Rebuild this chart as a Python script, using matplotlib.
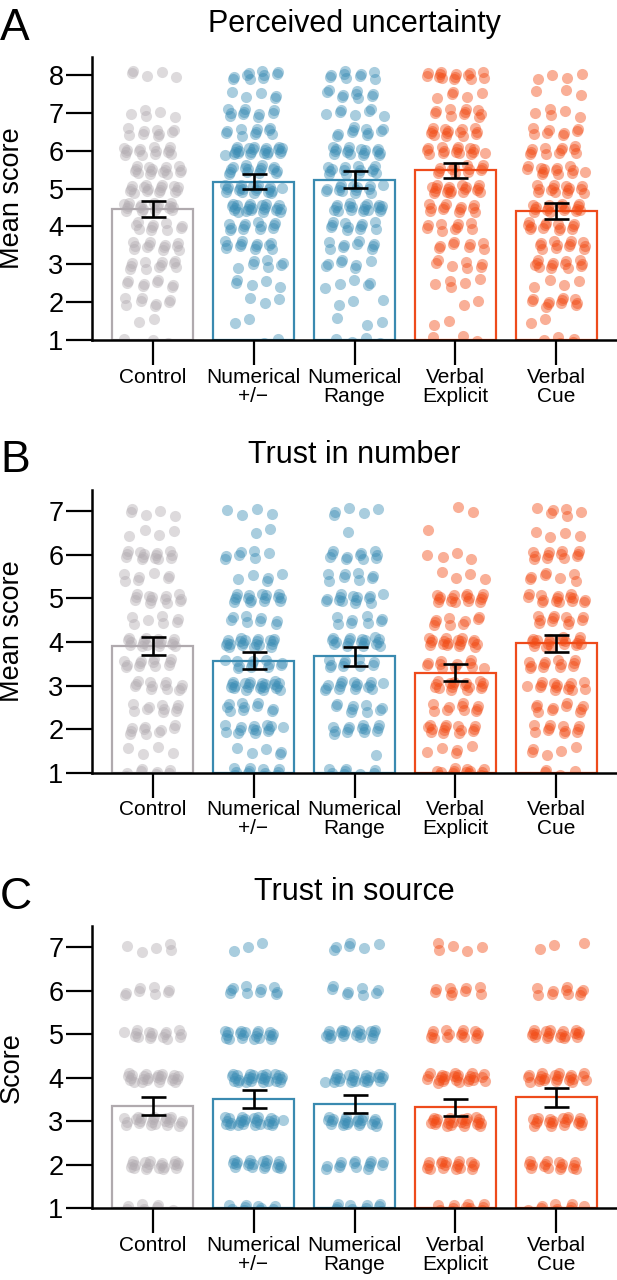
import numpy as np
import matplotlib
matplotlib.use('Agg')
import matplotlib.pyplot as plt

plt.rcParams['font.family'] = ['Liberation Sans', 'DejaVu Sans']

# ---------------------------------------------------------------
#   D A T A
# ---------------------------------------------------------------
groups = ['Control', 'Numerical\n+/\u2212', 'Numerical\nRange', 'Verbal\nExplicit', 'Verbal\nCue']

# panel A : perceived uncertainty, levels 1.0 .. 8.0 in 0.5 steps
uncert_levels = [1.0, 1.5, 2.0, 2.5, 3.0, 3.5, 4.0, 4.5, 5.0, 5.5, 6.0, 6.5, 7.0, 7.5, 8.0]
uncert_counts = [
    [4, 2, 8, 8, 11, 12, 10, 18, 16, 15, 14, 9, 5, 0, 5],
    [2, 2, 3, 5, 7, 12, 12, 22, 20, 16, 22, 10, 10, 5, 10],
    [4, 3, 3, 5, 7, 9, 11, 18, 14, 14, 16, 10, 7, 9, 9],
    [3, 2, 2, 5, 7, 8, 9, 12, 18, 12, 15, 14, 10, 5, 14],
    [6, 2, 11, 4, 13, 12, 13, 17, 14, 13, 11, 8, 5, 3, 4],
]
uncert_mean = [4.46, 5.18, 5.24, 5.49, 4.41]
uncert_se = [0.21, 0.20, 0.22, 0.20, 0.22]

# panel B : trust in number, levels 1.0 .. 7.0 in 0.5 steps
number_levels = [1.0, 1.5, 2.0, 2.5, 3.0, 3.5, 4.0, 4.5, 5.0, 5.5, 6.0, 6.5, 7.0]
number_counts = [
    [10, 4, 10, 10, 12, 12, 18, 7, 13, 7, 14, 4, 5],
    [12, 5, 14, 10, 22, 12, 20, 8, 16, 5, 7, 2, 4],
    [10, 1, 13, 9, 16, 10, 18, 8, 14, 8, 11, 1, 5],
    [18, 5, 14, 10, 17, 11, 18, 9, 16, 4, 4, 1, 2],
    [5, 5, 11, 10, 14, 12, 19, 11, 15, 7, 12, 4, 6],
]
number_mean = [3.91, 3.57, 3.67, 3.30, 3.97]
number_se = [0.21, 0.20, 0.21, 0.19, 0.20]

# panel C : trust in source, levels 1 .. 7
source_levels = [1, 2, 3, 4, 5, 6, 7]
source_counts = [
    [10, 20, 22, 24, 16, 8, 5],
    [14, 20, 26, 28, 20, 10, 3],
    [12, 14, 22, 24, 20, 8, 6],
    [14, 18, 24, 25, 15, 9, 5],
    [12, 16, 20, 22, 20, 10, 3],
]
source_mean = [3.36, 3.51, 3.39, 3.32, 3.55]
source_se = [0.21, 0.20, 0.21, 0.20, 0.21]

# ---------------------------------------------------------------
#   S T Y L E
# ---------------------------------------------------------------
dot_cols = ['#b2acb1', '#3b8db5', '#3b8db5', '#f24a14', '#f24a14']
bar_cols = ['#b0aaae', '#3a8ab0', '#3a8ab0', '#ee4b1c', '#ee4b1c']


def stripbar(ax, levels, counts, means, ses, top, ytk, ylab, yjit, seed):
    x = np.arange(len(groups))
    ax.bar(x, np.array(means) - 1, bottom=1, width=0.8, facecolor='none',
           edgecolor=bar_cols, linewidth=1.6, zorder=1)
    k = seed
    for g in range(len(groups)):
        xs = [] ; ys = []
        for lv, n in zip(levels, counts[g]):
            # deterministic strip jitter (running low-discrepancy index)
            i = np.arange(k, k + n)
            k += n
            jx = (0.5 + i * 0.7548776662) % 1.0 - 0.5
            jy = (0.5 + i * 0.5698402910) % 1.0 - 0.5
            xs.extend(g + jx * 0.58)
            ys.extend(lv + jy * yjit)
        ax.scatter(xs, ys, s=64, color=dot_cols[g], alpha=0.44, linewidths=0, zorder=2)
    ax.errorbar(x, means, yerr=ses, fmt='none', ecolor='black', elinewidth=1.9,
                capsize=9, capthick=1.9, zorder=3)
    ax.set_xlim(-0.6, 4.6)
    ax.set_ylim(1, top)
    ax.set_yticks(ytk)
    ax.set_xticks(x)
    ax.set_xticklabels(groups, fontsize=15, linespacing=1.0)
    ax.tick_params(axis='y', length=19, width=1.6, labelsize=19.5, pad=1.5)
    ax.tick_params(axis='x', length=18, width=1.6, pad=2)
    for s in ['top', 'right']:
        ax.spines[s].set_visible(False)
    for s in ['left', 'bottom']:
        ax.spines[s].set_linewidth(1.8)
    ax.set_ylabel(ylab, fontsize=19.5)
    ax.yaxis.set_label_coords(-0.128, 0.5)


fig = plt.figure(figsize=(6.17, 12.8), dpi=100)
W = 1280.0
left = 92 / 617.0
width = 1 - left

axA = fig.add_axes([left, 1 - 340 / W, width, (340 - 57) / W])
stripbar(axA, uncert_levels, uncert_counts, uncert_mean, uncert_se, 8.48, range(1, 9), 'Mean score', 0.24, 0)

axB = fig.add_axes([left, 1 - 772.7 / W, width, (772.7 - 490) / W])
stripbar(axB, number_levels, number_counts, number_mean, number_se, 7.49, range(1, 8), 'Mean score', 0.22, 7)

axC = fig.add_axes([left, 1 - 1208.3 / W, width, (1208.3 - 926) / W])
stripbar(axC, source_levels, source_counts, source_mean, source_se, 7.49, range(1, 8), 'Score', 0.22, 13)

cx = (92 + 617) / 2 / 617.0
fig.text(cx, 1 - 32 / W, 'Perceived uncertainty', fontsize=22, ha='center', va='baseline')
fig.text(cx, 1 - 463 / W, 'Trust in number', fontsize=22, ha='center', va='baseline')
fig.text(cx, 1 - 900 / W, 'Trust in source', fontsize=22, ha='center', va='baseline')

fig.text(0.0, 1 - 40 / W, 'A', fontsize=32, ha='left', va='baseline')
fig.text(0.0, 1 - 472 / W, 'B', fontsize=32, ha='left', va='baseline')
fig.text(0.0, 1 - 909 / W, 'C', fontsize=32, ha='left', va='baseline')

fig.savefig('out.png', dpi=100)
